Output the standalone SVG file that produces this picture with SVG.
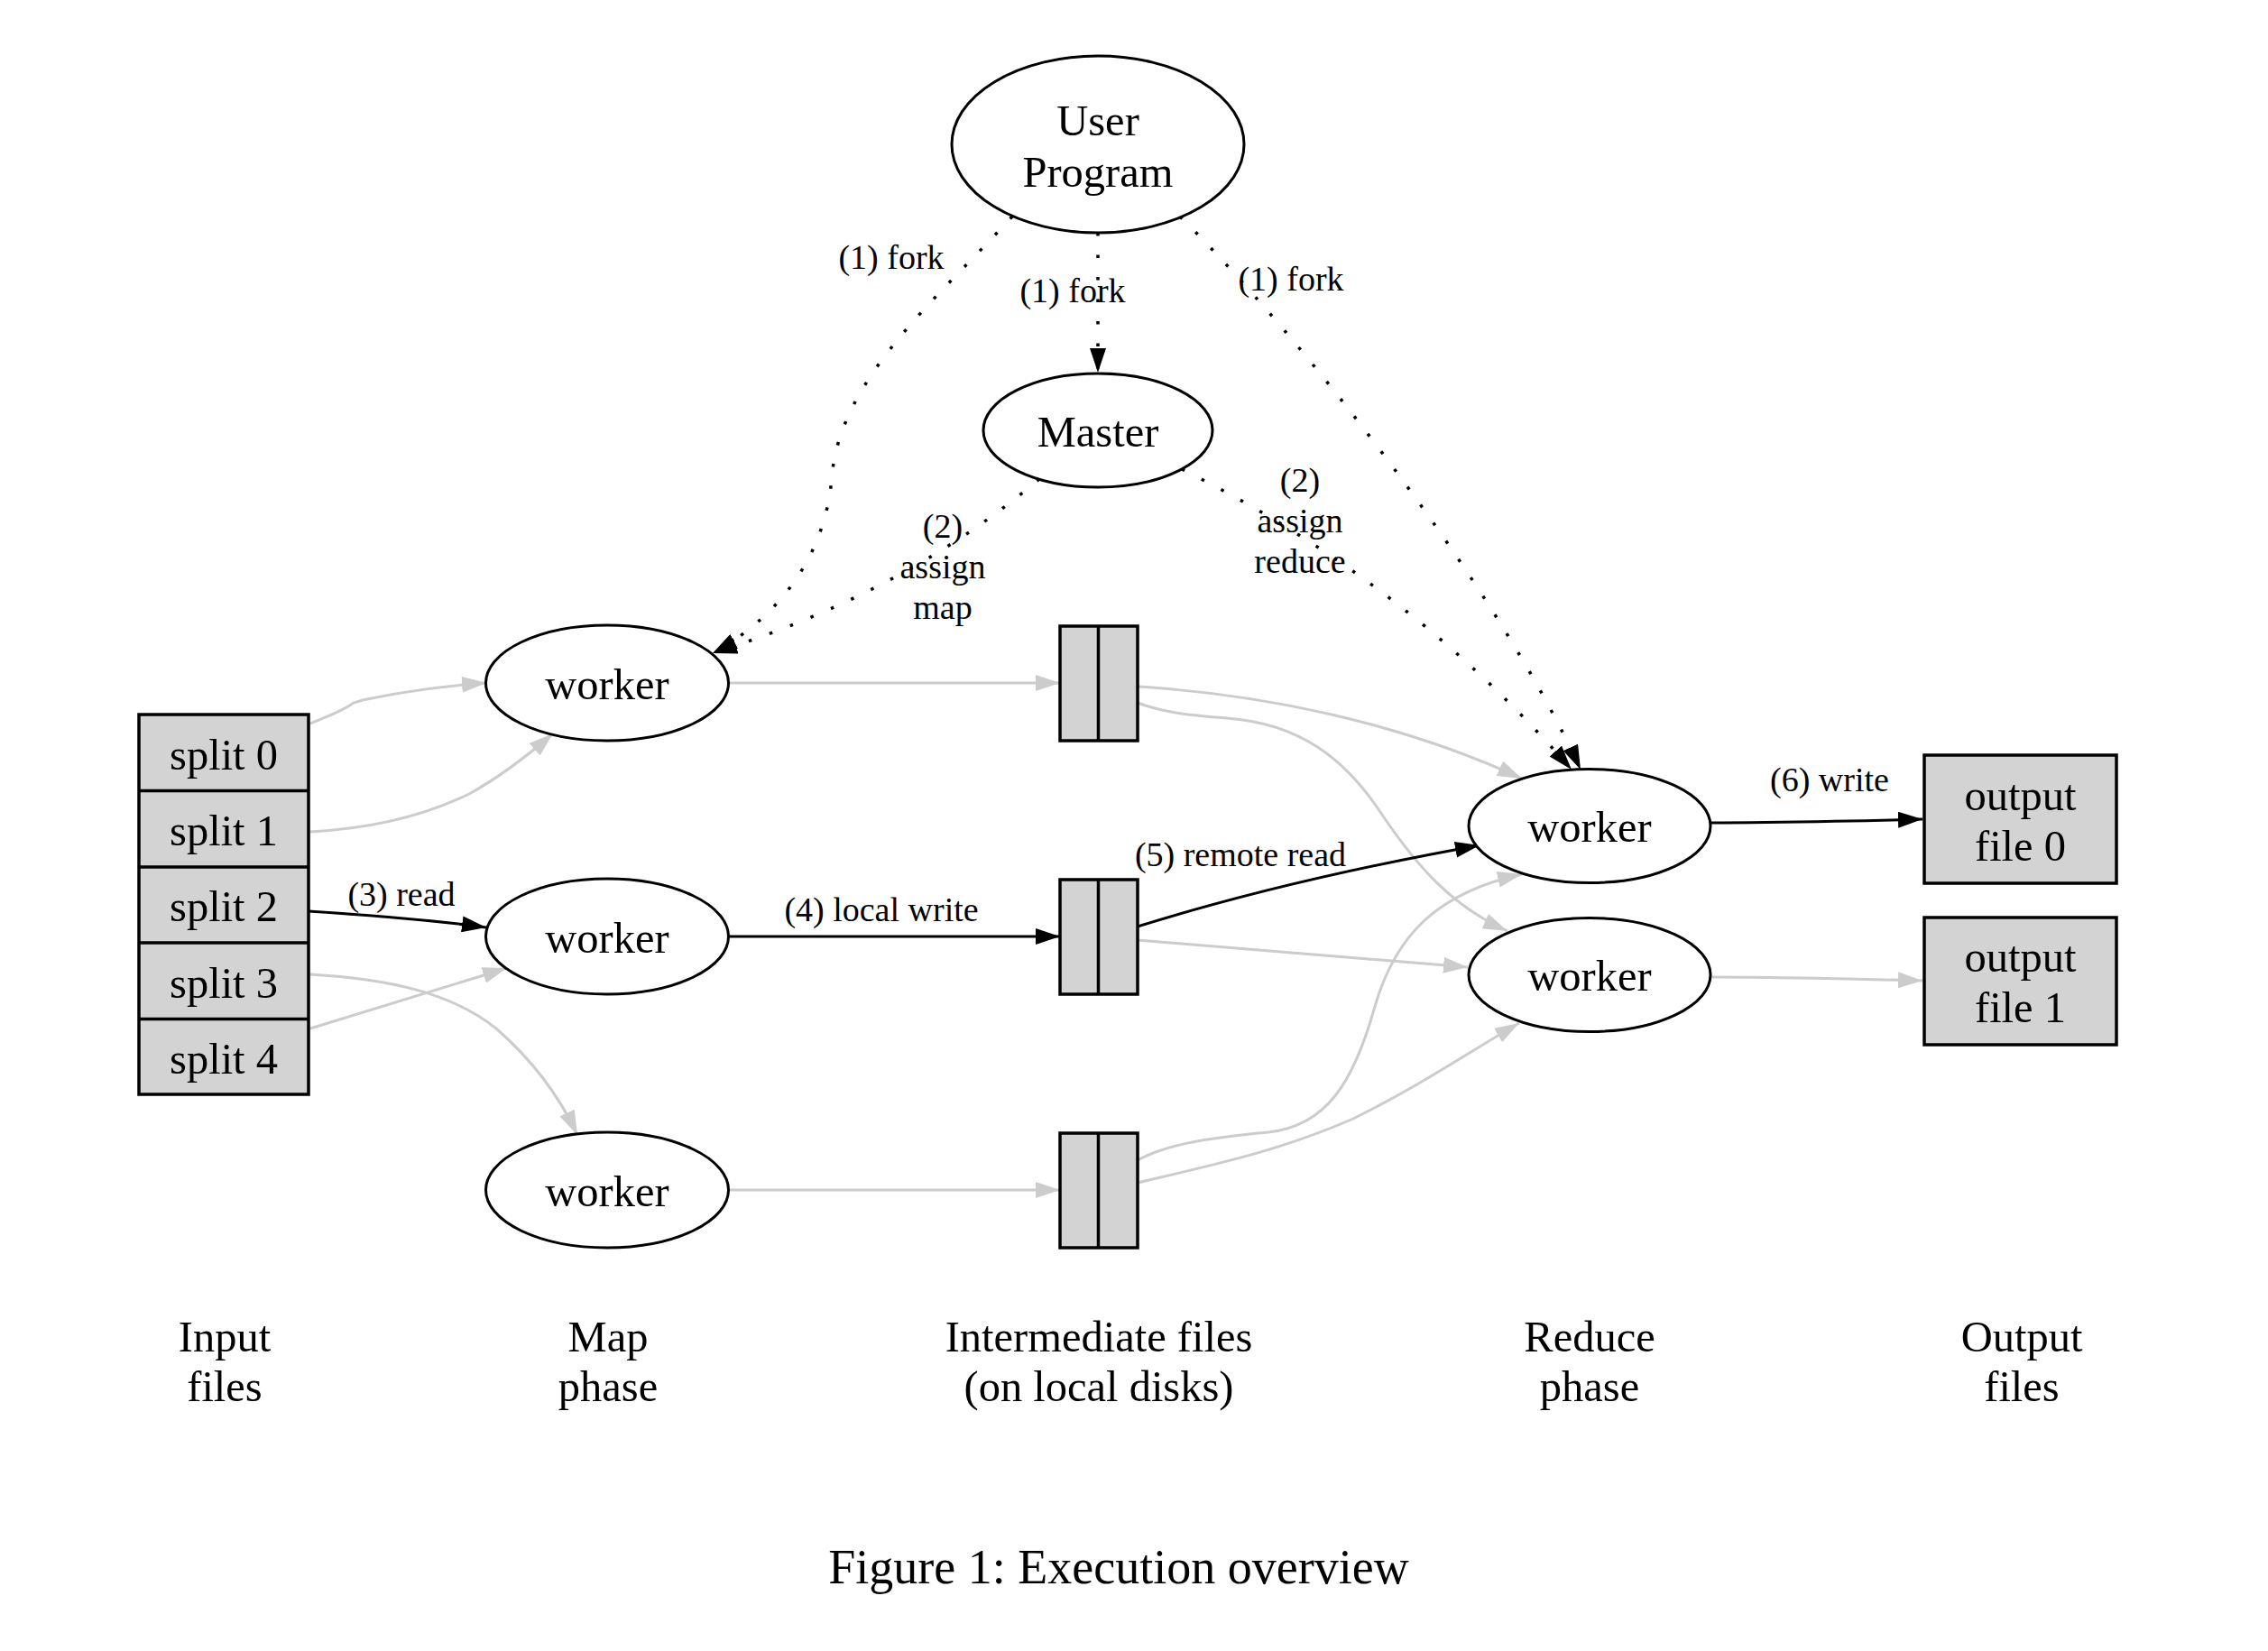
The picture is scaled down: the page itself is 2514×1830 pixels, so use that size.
<svg xmlns="http://www.w3.org/2000/svg" width="2514" height="1830" viewBox="0 0 2514 1830">
<style>
.t{font-family:"Liberation Serif","Times New Roman",serif;font-size:48.5px;text-anchor:middle;fill:#000}
.l{font-size:38px}
.c{font-size:54px}
.node{fill:#fff;stroke:#000;stroke-width:3}
.box{fill:#d3d3d3;stroke:#000;stroke-width:3.5}
.div{stroke:#000;stroke-width:3.5}
.e{fill:none;stroke-width:3}
.blk{stroke:#000;marker-end:url(#ab)}
.gry{stroke:#cccccc;marker-end:url(#ag)}
.dot{stroke:#000;stroke-width:3.5;stroke-dasharray:3.5 21;marker-end:url(#ab)}
</style>
<defs>
<marker id="ab" markerUnits="userSpaceOnUse" markerWidth="28" markerHeight="18" refX="27" refY="9" orient="auto"><path d="M0,0 L27,9 L0,18 z" fill="#000" stroke="none"/></marker>
<marker id="ag" markerUnits="userSpaceOnUse" markerWidth="28" markerHeight="18" refX="27" refY="9" orient="auto"><path d="M0,0 L27,9 L0,18 z" fill="#cccccc" stroke="none"/></marker>
</defs>
<rect width="2514" height="1830" fill="#fff"/>

<g id="connectors">
<path class="e gry" d="M344,802 C365,793 380,788 392,779 L402,776 C450,766 495,760 539,757"/>
<path class="e gry" d="M344,922 C420,918 475,902 520,880 C560,858 590,833 613,813"/>
<path class="e blk" d="M342,1010 C420,1015 480,1020 539,1028"/>
<path class="e gry" d="M344,1080 C430,1085 500,1100 550,1140 C590,1175 620,1215 640,1258"/>
<path class="e gry" d="M344,1140 L562,1073"/>
<path class="e gry" d="M808,757 L1175,757"/>
<path class="e blk" d="M808,1038 L1175,1038"/>
<path class="e gry" d="M806,1319 L1175,1319"/>
<path class="e gry" d="M1261,761 C1400,770 1550,800 1687,863"/>
<path class="e gry" d="M1261,779 C1290,790 1320,793 1360,796 C1440,802 1490,840 1530,900 C1570,960 1610,1005 1671,1032"/>
<path class="e blk" d="M1261,1027 C1380,990 1500,962 1640,937"/>
<path class="e gry" d="M1261,1042 L1627,1072"/>
<path class="e gry" d="M1261,1286 C1290,1270 1330,1262 1406,1255 C1470,1248 1500,1200 1523,1119 C1545,1040 1590,990 1687,969"/>
<path class="e gry" d="M1261,1311 C1350,1290 1420,1275 1500,1240 C1580,1200 1630,1165 1684,1134"/>
<path class="e blk" d="M1896,912 C1980,912 2050,910 2131,908"/>
<path class="e gry" d="M1896,1083 C1980,1083 2050,1085 2131,1087"/>
<path class="e dot" d="M1217,258 L1217,413"/>
<path class="e dot" d="M1122,240 C1040,330 930,420 922,530 C915,610 870,680 790,724"/>
<path class="e dot" d="M1308,240 C1440,370 1660,650 1752,853"/>
<path class="e dot" d="M1152,531 C1070,600 960,670 790,724"/>
<path class="e dot" d="M1310,520 C1450,590 1600,690 1742,853"/>
</g>

<g id="edge-labels">
<text class="t l" x="988" y="298">(1) fork</text>
<text class="t l" x="1189" y="335">(1) fork</text>
<text class="t l" x="1431" y="322">(1) fork</text>
<text class="t l" x="1045" y="596">(2)</text>
<text class="t l" x="1045" y="641">assign</text>
<text class="t l" x="1045" y="686">map</text>
<text class="t l" x="1441" y="545">(2)</text>
<text class="t l" x="1441" y="590">assign</text>
<text class="t l" x="1441" y="635">reduce</text>
<text class="t l" x="445" y="1004">(3) read</text>
<text class="t l" x="977" y="1021">(4) local write</text>
<text class="t l" x="1375" y="960">(5) remote read</text>
<text class="t l" x="2028" y="877">(6) write</text>
</g>

<g id="user-program">
<ellipse class="node" cx="1217" cy="160" rx="162" ry="98"/>
<text class="t" x="1217" y="150">User</text>
<text class="t" x="1217" y="207">Program</text>
</g>
<g id="master">
<ellipse class="node" cx="1217" cy="477" rx="127" ry="63"/>
<text class="t" x="1217" y="495">Master</text>
</g>

<g id="input-splits">
<rect class="box" x="154" y="792" width="188" height="421"/>
<line class="div" x1="154" y1="876.5" x2="342" y2="876.5"/>
<line class="div" x1="154" y1="961" x2="342" y2="961"/>
<line class="div" x1="154" y1="1045" x2="342" y2="1045"/>
<line class="div" x1="154" y1="1129.5" x2="342" y2="1129.5"/>
<text class="t" x="248" y="852.5">split 0</text>
<text class="t" x="248" y="937">split 1</text>
<text class="t" x="248" y="1021">split 2</text>
<text class="t" x="248" y="1105.5">split 3</text>
<text class="t" x="248" y="1190">split 4</text>
</g>

<g id="map-worker-1">
<ellipse class="node" cx="673" cy="757" rx="134.5" ry="64"/>
<text class="t" x="673" y="774.5">worker</text>
</g>
<g id="map-worker-2">
<ellipse class="node" cx="673" cy="1038" rx="134.5" ry="64"/>
<text class="t" x="673" y="1055.5">worker</text>
</g>
<g id="map-worker-3">
<ellipse class="node" cx="673" cy="1319" rx="134.5" ry="64"/>
<text class="t" x="673" y="1336.5">worker</text>
</g>

<g id="intermediate-1">
<rect class="box" x="1175" y="694" width="86" height="127"/>
<line class="div" x1="1217.5" y1="694" x2="1217.5" y2="821"/>
</g>
<g id="intermediate-2">
<rect class="box" x="1175" y="975" width="86" height="127"/>
<line class="div" x1="1217.5" y1="975" x2="1217.5" y2="1102"/>
</g>
<g id="intermediate-3">
<rect class="box" x="1175" y="1256" width="86" height="127"/>
<line class="div" x1="1217.5" y1="1256" x2="1217.5" y2="1383"/>
</g>

<g id="reduce-worker-1">
<ellipse class="node" cx="1762" cy="915.5" rx="134" ry="63"/>
<text class="t" x="1762" y="933">worker</text>
</g>
<g id="reduce-worker-2">
<ellipse class="node" cx="1762" cy="1080.5" rx="134" ry="63"/>
<text class="t" x="1762" y="1098">worker</text>
</g>

<g id="output-file-0">
<rect class="box" x="2133" y="837" width="213" height="142"/>
<text class="t" x="2239.5" y="898">output</text>
<text class="t" x="2239.5" y="954">file 0</text>
</g>
<g id="output-file-1">
<rect class="box" x="2133" y="1017" width="213" height="141"/>
<text class="t" x="2239.5" y="1077">output</text>
<text class="t" x="2239.5" y="1133">file 1</text>
</g>

<g id="phase-labels">
<text class="t" x="249" y="1498">Input</text>
<text class="t" x="249" y="1553">files</text>
<text class="t" x="674" y="1498">Map</text>
<text class="t" x="674" y="1553">phase</text>
<text class="t" x="1218" y="1498">Intermediate files</text>
<text class="t" x="1218" y="1553">(on local disks)</text>
<text class="t" x="1762" y="1498">Reduce</text>
<text class="t" x="1762" y="1553">phase</text>
<text class="t" x="2241" y="1498">Output</text>
<text class="t" x="2241" y="1553">files</text>
</g>

<text id="caption" class="t c" x="1240" y="1755">Figure 1: Execution overview</text>
</svg>
